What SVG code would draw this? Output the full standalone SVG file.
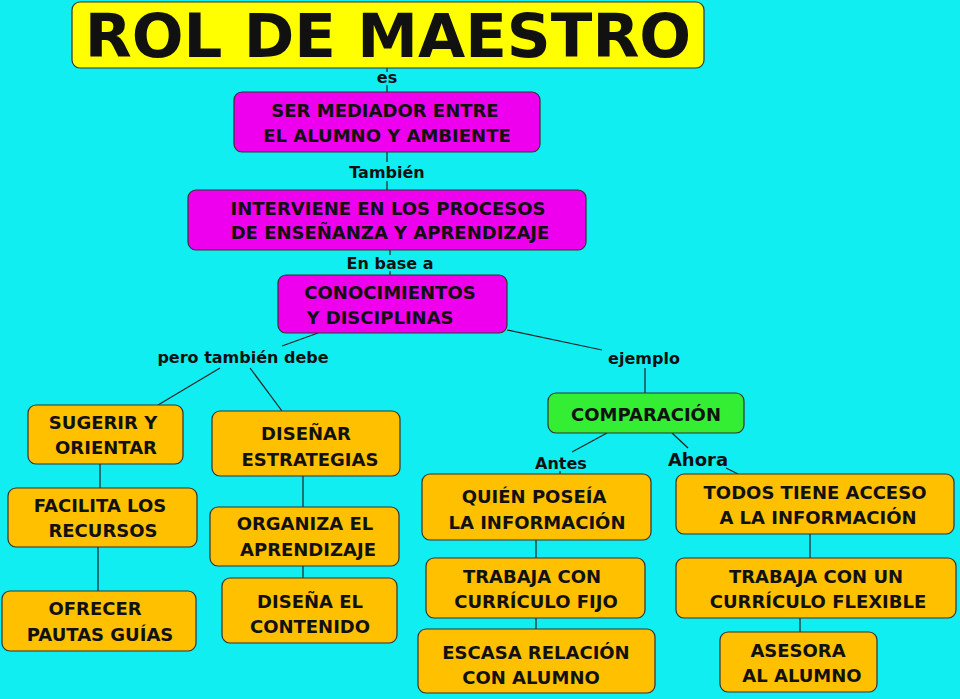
<svg xmlns="http://www.w3.org/2000/svg" width="960" height="699" viewBox="0 0 960 699">
<style>
.n rect{stroke:#333;stroke-width:1.2}
.y{fill:#FFFF00}.m{fill:#EE00EE}.g{fill:#33EE33}.o{fill:#FFC000}
text{font-family:"DejaVu Sans",Verdana,sans-serif;font-weight:bold;fill:#111;text-anchor:middle}
.t{font-size:18px}.l{font-size:16px}
#conn line{stroke:#222;stroke-width:1.2}
</style>
<rect width="960" height="699" fill="#11EEF2"/>
<g id="conn">
<line x1="387" y1="68" x2="387" y2="72"/><line x1="387" y1="85" x2="387" y2="92"/>
<line x1="387" y1="152" x2="387" y2="162"/><line x1="387" y1="181" x2="387" y2="190"/>
<line x1="390" y1="250" x2="390" y2="255"/><line x1="390" y1="271" x2="390" y2="275"/>
<line x1="318" y1="333" x2="282" y2="346"/>
<line x1="220" y1="368" x2="158" y2="405"/><line x1="250" y1="368" x2="282" y2="411"/>
<line x1="507" y1="330" x2="602" y2="350"/><line x1="645" y1="368" x2="645" y2="393"/>
<line x1="100" y1="464" x2="100" y2="488"/><line x1="98" y1="547" x2="98" y2="591"/>
<line x1="303" y1="476" x2="303" y2="507"/><line x1="303" y1="566" x2="303" y2="578"/>
<line x1="607" y1="433" x2="572" y2="452"/><line x1="672" y1="433" x2="688" y2="448"/>
<line x1="560" y1="471" x2="560" y2="474"/><line x1="726" y1="468" x2="738" y2="474"/>
<line x1="536" y1="540" x2="536" y2="558"/><line x1="536" y1="618" x2="536" y2="629"/>
<line x1="810" y1="534" x2="810" y2="558"/><line x1="800" y1="618" x2="800" y2="632"/>
</g>
<g id="labels" class="l">
<text x="387" y="83">es</text>
<text x="387" y="178">También</text>
<text x="390" y="269">En base a</text>
<text x="243" y="363">pero también debe</text>
<text x="644" y="364">ejemplo</text>
<text x="561" y="469">Antes</text>
<text x="698" y="466" style="font-size:18px">Ahora</text>
</g>
<g id="title" class="n"><rect class="y" x="72" y="2" width="632" height="66" rx="8"/><text x="388" y="57" style="font-size:61px">ROL DE MAESTRO</text></g>
<g id="ser" class="n t"><rect class="m" x="234" y="92" width="306" height="60" rx="8"/><text x="385" y="117">SER MEDIADOR ENTRE</text><text x="387" y="142">EL ALUMNO Y AMBIENTE</text></g>
<g id="interviene" class="n t"><rect class="m" x="188" y="190" width="398" height="60" rx="8"/><text x="388" y="215">INTERVIENE EN LOS PROCESOS</text><text x="390" y="239">DE ENSEÑANZA Y APRENDIZAJE</text></g>
<g id="conoc" class="n t"><rect class="m" x="278" y="275" width="229" height="58" rx="8"/><text x="390" y="299">CONOCIMIENTOS</text><text x="380" y="324">Y DISCIPLINAS</text></g>
<g id="sugerir" class="n t"><rect class="o" x="28" y="405" width="155" height="59" rx="8"/><text x="103" y="429">SUGERIR Y</text><text x="106" y="454">ORIENTAR</text></g>
<g id="disenar" class="n t"><rect class="o" x="212" y="411" width="188" height="65" rx="8"/><text x="306" y="440">DISEÑAR</text><text x="310" y="466">ESTRATEGIAS</text></g>
<g id="facilita" class="n t"><rect class="o" x="8" y="488" width="189" height="59" rx="8"/><text x="100" y="512">FACILITA LOS</text><text x="103" y="537">RECURSOS</text></g>
<g id="organiza" class="n t"><rect class="o" x="210" y="507" width="189" height="59" rx="8"/><text x="305" y="530">ORGANIZA EL</text><text x="308" y="556">APRENDIZAJE</text></g>
<g id="ofrecer" class="n t"><rect class="o" x="2" y="591" width="194" height="60" rx="8"/><text x="95" y="615">OFRECER</text><text x="100" y="641">PAUTAS GUÍAS</text></g>
<g id="disena" class="n t"><rect class="o" x="222" y="578" width="175" height="65" rx="8"/><text x="310" y="608">DISEÑA EL</text><text x="310" y="633">CONTENIDO</text></g>
<g id="comparacion" class="n t"><rect class="g" x="548" y="393" width="196" height="40" rx="8"/><text x="646" y="421">COMPARACIÓN</text></g>
<g id="quien" class="n t"><rect class="o" x="422" y="474" width="229" height="66" rx="8"/><text x="534" y="503">QUIÉN POSEÍA</text><text x="537" y="529">LA INFORMACIÓN</text></g>
<g id="todos" class="n t"><rect class="o" x="676" y="474" width="278" height="60" rx="8"/><text x="815" y="499">TODOS TIENE ACCESO</text><text x="818" y="524">A LA INFORMACIÓN</text></g>
<g id="fijo" class="n t"><rect class="o" x="426" y="558" width="219" height="60" rx="8"/><text x="532" y="583">TRABAJA CON</text><text x="536" y="608">CURRÍCULO FIJO</text></g>
<g id="flexible" class="n t"><rect class="o" x="676" y="558" width="280" height="60" rx="8"/><text x="816" y="583">TRABAJA CON UN</text><text x="818" y="608">CURRÍCULO FLEXIBLE</text></g>
<g id="escasa" class="n t"><rect class="o" x="418" y="629" width="237" height="64" rx="8"/><text x="536" y="659">ESCASA RELACIÓN</text><text x="531" y="684">CON ALUMNO</text></g>
<g id="asesora" class="n t"><rect class="o" x="720" y="632" width="157" height="60" rx="8"/><text x="798" y="657">ASESORA</text><text x="802" y="682">AL ALUMNO</text></g>
</svg>
